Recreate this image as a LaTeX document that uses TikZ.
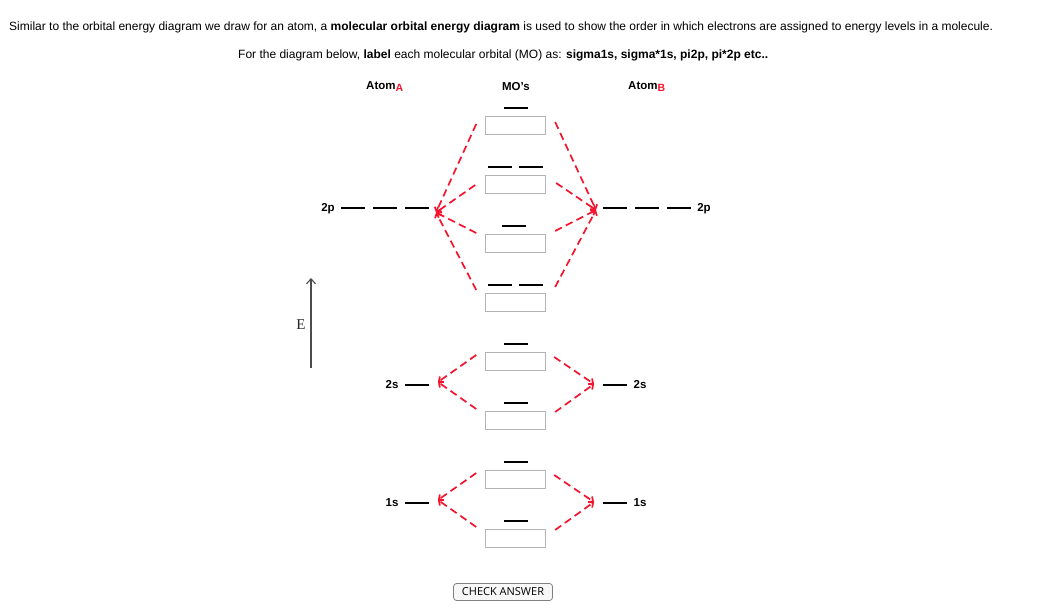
\documentclass[tikz,border=0pt]{standalone}
\usepackage{fontspec}
\usetikzlibrary{arrows.meta}
\setmainfont{Liberation Sans}
\newfontfamily\energyfont{Liberation Serif}
\newfontfamily\buttonfont{Open Sans}
\definecolor{bondred}{HTML}{F5142D}
\definecolor{boxgray}{HTML}{B4B4B4}
\tikzset{
  level/.style={fill=black, inner sep=0pt, minimum width=24pt, minimum height=2pt},
  answerbox/.style={draw=boxgray, line width=0.9pt, fill=white, inner sep=0pt, minimum width=60pt, minimum height=18pt},
  bond/.style={-{Straight Barb[length=3.5pt,width=7pt]}, draw=bondred, line width=1.7pt, dash pattern=on 7.5pt off 4.5pt},
  label/.style={inner sep=0pt, font=\fontsize{11.5}{14}\selectfont\bfseries},
  textline/.style={inner sep=0pt, anchor=base west, font=\fontsize{12}{15}\selectfont},
}
\newcommand{\atomsub}[1]{\raisebox{-2.5pt}{\fontsize{10.5}{11}\selectfont\color{bondred}#1}}
\begin{document}
\begin{tikzpicture}[x=1pt, y=-1pt]
    \useasboundingbox (0,0) rectangle (1041,613);
    % instructions
    \node[textline] (intro) at (9,30.5) {Similar to the orbital energy diagram we draw for an atom, a \textbf{molecular orbital energy diagram} is used to show the order in which electrons are assigned to energy levels in a molecule.};
    \node[textline] (task) at (238,58) {For the diagram below, \textbf{label} each molecular orbital (MO) as: \textbf{sigma1s, sigma*1s, pi2p, pi*2p etc..}};
    % headings
    \node[label, anchor=base west] (atoma) at (366,89) {Atom\atomsub{A}};
    \node[label, anchor=base] (mos) at (516,90) {MO's};
    \node[label, anchor=base west] (atomb) at (628,89) {Atom\atomsub{B}};
    % answer boxes
    \foreach \name/\y in {moa/125, mob/184, moc/243, mod/302, moe/361, mof/420, mog/479, moh/538} {
      \node[answerbox] (\name) at (515.7,\y) {};
    }
    % molecular levels
    \node[level] (la) at (516,107.7) {};
    \node[level] (lba) at (500,167) {};
    \node[level] (lbb) at (531,167) {};
    \node[level] (lc) at (514,226) {};
    \node[level] (lda) at (500,285) {};
    \node[level] (ldb) at (531,285) {};
    \node[level] (le) at (516,344) {};
    \node[level] (lf) at (516,403) {};
    \node[level] (lg) at (516,462) {};
    \node[level] (lh) at (516,521) {};
    % atom levels
    \node[level] (apa) at (353,208) {};
    \node[level] (apb) at (385,208) {};
    \node[level] (apc) at (417,208) {};
    \node[level] (bpa) at (615,208) {};
    \node[level] (bpb) at (647,208) {};
    \node[level] (bpc) at (679,208) {};
    \node[level] (asa) at (417,385) {};
    \node[level] (bsa) at (615,385) {};
    \node[level] (asb) at (417,503) {};
    \node[level] (bsb) at (615,503) {};
    \node[label, anchor=base] (tpa) at (328,211) {2p};
    \node[label, anchor=base] (tpb) at (704,211) {2p};
    \node[label, anchor=base] (tsa) at (392,388) {2s};
    \node[label, anchor=base] (tsb) at (640,388) {2s};
    \node[label, anchor=base] (tua) at (392,506) {1s};
    \node[label, anchor=base] (tub) at (640,506) {1s};
    % tips of the dashed lines
    \coordinate (ptipa) at (436,212.5);
    \coordinate (ptipb) at (596,210);
    \coordinate (stipa) at (438,382);
    \coordinate (stipb) at (594,384);
    \coordinate (utipa) at (438,500);
    \coordinate (utipb) at (594,502);
    % dashed lines
    \draw[bond] ([xshift=-9pt,yshift=1pt]moa.west) -- (ptipa);
    \draw[bond] ([xshift=-10pt,yshift=-1pt]mob.west) -- (ptipa);
    \draw[bond] ([xshift=-9pt,yshift=10pt]moc.west) -- (ptipa);
    \draw[bond] ([xshift=-9pt,yshift=12pt]mod.west) -- (ptipa);
    \draw[bond] ([xshift=9pt,yshift=3pt]moa.east) -- (ptipb);
    \draw[bond] ([xshift=10pt,yshift=1pt]mob.east) -- (ptipb);
    \draw[bond] ([xshift=9pt,yshift=12pt]moc.east) -- (ptipb);
    \draw[bond] ([xshift=9pt,yshift=15pt]mod.east) -- (ptipb);
    \draw[bond] ([xshift=-9pt,yshift=6pt]moe.west) -- (stipa);
    \draw[bond] ([xshift=-9pt,yshift=11pt]mof.west) -- (stipa);
    \draw[bond] ([xshift=8pt,yshift=4pt]moe.east) -- (stipb);
    \draw[bond] ([xshift=9pt,yshift=8pt]mof.east) -- (stipb);
    \draw[bond] ([xshift=-9pt,yshift=6pt]mog.west) -- (utipa);
    \draw[bond] ([xshift=-9pt,yshift=11pt]moh.west) -- (utipa);
    \draw[bond] ([xshift=8pt,yshift=4pt]mog.east) -- (utipb);
    \draw[bond] ([xshift=9pt,yshift=8pt]moh.east) -- (utipb);
    % energy axis
    \coordinate (ebottom) at (311,368);
    \coordinate (etop) at (311,278);
    \draw[-{Straight Barb[length=5pt,width=9pt]}, draw=black!70, line width=1.1pt] (ebottom) -- (etop);
    \node[inner sep=0pt, font=\energyfont\fontsize{15}{15}\selectfont, color=black!85] (energy) at (301,324.5) {E};
    % button
    \node[draw=black!50, rounded corners=3pt, line width=0.8pt, fill=black!3, minimum width=99pt, minimum height=17pt, inner sep=0pt, font=\buttonfont\fontsize{11}{12}\selectfont] (check) at (503,592) {CHECK ANSWER};
\end{tikzpicture}
\end{document}
